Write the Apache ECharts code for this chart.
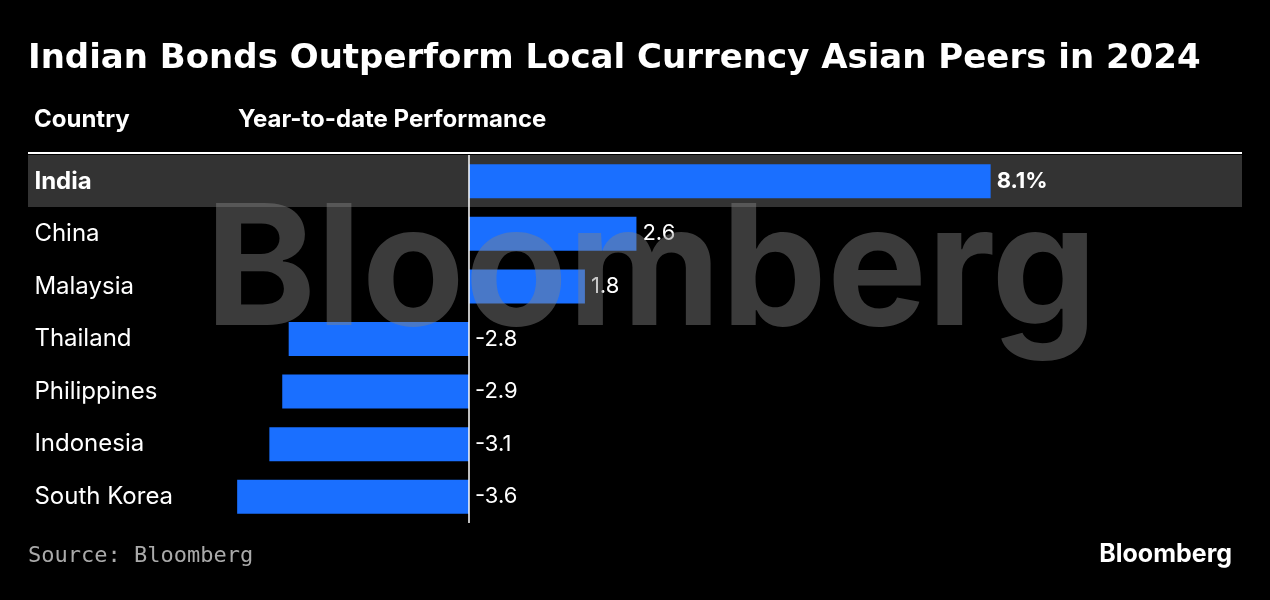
<!DOCTYPE html>
<html><head><meta charset="utf-8">
<script src="https://cdn.jsdelivr.net/npm/echarts@6/dist/echarts.min.js"></script>
<style>html,body{margin:0;background:#000}#c{width:1270px;height:600px}</style>
</head><body><div id="c"></div>
<script>
const categories = ["India","China","Malaysia","Thailand","Philippines","Indonesia","South Korea"];
const values = [8.1, 2.6, 1.8, -2.8, -2.9, -3.1, -3.6];
const valueLabels = ["8.1%","2.6","1.8","-2.8","-2.9","-3.1","-3.6"];
const F = "'Inter','Roboto','Liberation Sans',sans-serif";
const chart = echarts.init(document.getElementById('c'));
chart.setOption({
  backgroundColor:'#000',
  animation:false,
  grid:{left:211.4,top:155,width:901.6,height:368},
  xAxis:{type:'value',min:-4,max:10,show:false},
  yAxis:{type:'category',data:categories,inverse:true,
    axisLine:{show:false},axisTick:{show:false},
    axisLabel:{align:'left',margin:177,color:'#fff',fontSize:24,fontFamily:F,
      formatter:(v)=> v==='India' ? '{b|'+v+'}' : v,
      rich:{b:{fontWeight:'bold',fontSize:24,color:'#fff',fontFamily:F}}}},
  graphic:[
    {type:'rect',z:-10,shape:{x:28,y:155,width:1214,height:52},style:{fill:'#333'}},
    {type:'line',shape:{x1:28,y1:153,x2:1242,y2:153},style:{stroke:'#fff',lineWidth:2}},
    {type:'text',left:28,top:42,style:{text:'Indian Bonds Outperform Local Currency Asian Peers in 2024',fill:'#fff',font:"bold 34px 'DejaVu Sans',sans-serif"}},
    {type:'text',left:34,top:108,style:{text:'Country',fill:'#fff',font:"bold 24px "+F}},
    {type:'text',left:238,top:108,style:{text:'Year-to-date Performance',fill:'#fff',font:"bold 24px "+F}},
    {type:'text',left:28,top:545,style:{text:'Source: Bloomberg',fill:'#aaa',font:"22px 'DejaVu Sans Mono',monospace"}},
    {type:'text',right:38,top:542,style:{text:'Bloomberg',fill:'#fff',font:"bold 25px "+F}},
    {type:'text',z:100,left:205,top:190,style:{text:'Bloomberg',fill:'rgba(130,130,130,0.45)',font:"bold 168px "+F}}
  ],
  series:[{type:'bar',data:values,barWidth:34,
    itemStyle:{color:'#1a6fff'},
    label:{show:true,position:'right',distance:6,color:'#fff',fontSize:22,fontFamily:F,
      formatter:(p)=> p.dataIndex===0 ? '{b|'+valueLabels[0]+'}' : valueLabels[p.dataIndex],
      rich:{b:{fontWeight:'bold',fontSize:22,color:'#fff',fontFamily:F}}},
    markLine:{symbol:'none',silent:true,label:{show:false},lineStyle:{color:'#fff',width:1.5,type:'solid'},data:[{xAxis:0}]}
  }]
});
</script></body></html>
